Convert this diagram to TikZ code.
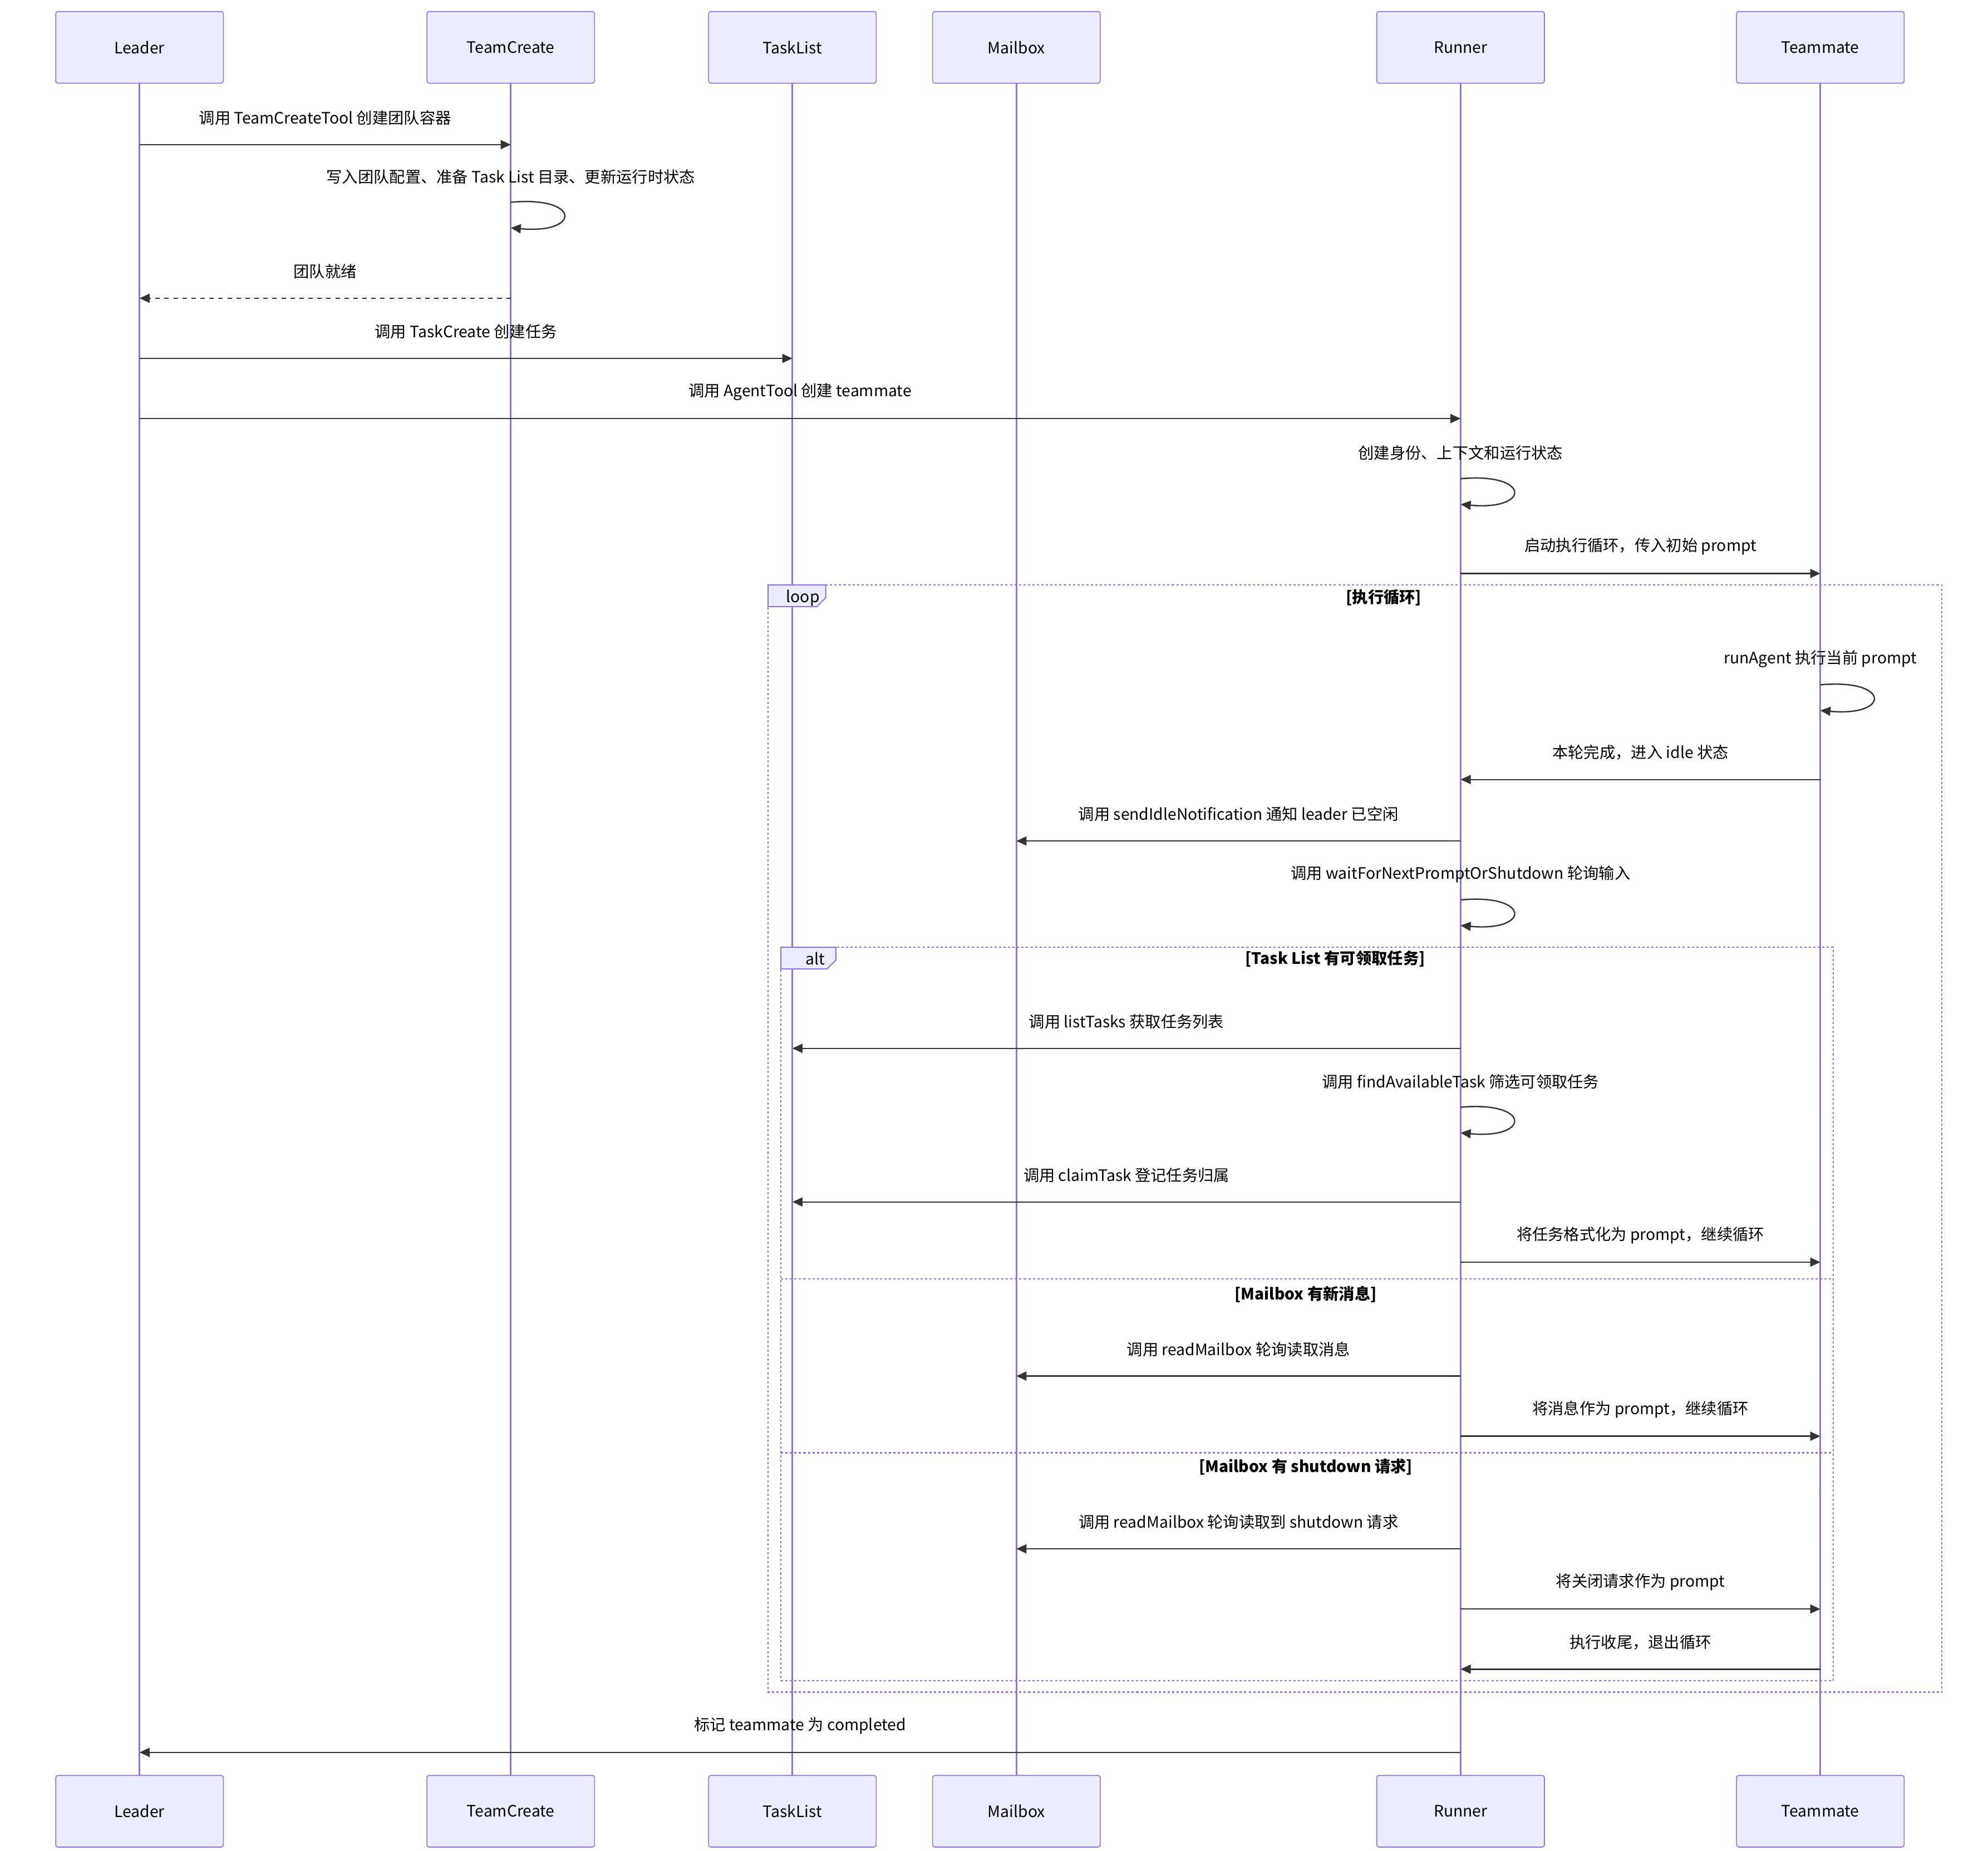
\documentclass[tikz,border=0pt]{standalone}
\usepackage{fontspec}
\setmainfont{Noto Sans CJK SC}
\usetikzlibrary{arrows.meta, calc}
\definecolor{boxfill}{HTML}{ECECFF}
\definecolor{boxline}{HTML}{9370DB}
\definecolor{msgline}{HTML}{333333}

\begin{document}
\begin{tikzpicture}[x = 0.02cm, y = -0.02cm, > = {Triangle[length=4.5pt,width=4pt]},
	actor/.style = {draw = boxline, fill = boxfill, rounded corners = 1pt,
		minimum width = 2.62cm, minimum height = 1.12cm, font = \fontsize{7}{8}\selectfont},
	life/.style = {draw = boxline, line width = 0.8pt},
	msg/.style = {draw = msgline, ->, line width = 0.6pt},
	reply/.style = {msg, dash pattern = on 2pt off 2pt},
	lbl/.style = {font = \fontsize{7}{8}\selectfont, text = black},
	frame/.style = {draw = boxline, line width = 0.6pt, dash pattern = on 1pt off 1pt},
	tab/.style = {draw = boxline, fill = boxfill, line width = 0.5pt}]

	% Page
	
	\useasboundingbox (0, 0) rectangle (1553, 1446);
	
	% Participants
	
	\foreach \name/\x in {Leader/109, TeamCreate/399, TaskList/619, Mailbox/794, Runner/1141, Teammate/1422} {
		\draw [life] (\x, 65) -- (\x, 1387);
		\node [actor] (\name-top) at (\x, 37) {\name};
		\node [actor] (\name-bot) at (\x, 1415) {\name};
		\coordinate (\name) at (\x, 0);
	}
	
	% Messages
	
	\newcommand{\msgto}[6][msg]{%
		\path (#3) ++(0, #5) coordinate (#2a);
		\path (#4) ++(0, #5) coordinate (#2b);
		\draw [#1] (#2a) -- (#2b);
		\node [lbl] at ($(#2a)!0.5!(#2b) + (0, -21)$) {#6};
	}
	\newcommand{\self}[4]{%
		\path (#1) ++(0, #3) coordinate (#2a);
		\path (#1) ++(0, #3 + 20) coordinate (#2b);
		\draw [msg] (#2a) .. controls ($(#2a) + (55, -5)$) and ($(#2b) + (55, 5)$) .. (#2b);
		\node [lbl] at ($(#2a) + (0, -20)$) {#4};
	}
	
	\msgto{m1}{Leader}{TeamCreate}{113}{调用 TeamCreateTool 创建团队容器}
	\self{TeamCreate}{s1}{158}{写入团队配置、准备 Task List 目录、更新运行时状态}
	\msgto[reply]{m2}{TeamCreate}{Leader}{233}{团队就绪}
	\msgto{m3}{Leader}{TaskList}{280}{调用 TaskCreate 创建任务}
	\msgto{m4}{Leader}{Runner}{327}{调用 AgentTool 创建 teammate}
	\self{Runner}{s2}{374}{创建身份、上下文和运行状态}
	\msgto{m5}{Runner}{Teammate}{448}{启动执行循环，传入初始 prompt}
	
	% Loop frame
	
	\draw [frame] (600, 457) rectangle (1517, 1322);
	\draw [tab] (600, 457) -- (645, 457) -- (645, 467) -- (638, 474) -- (600, 474) -- cycle;
	\node [lbl, anchor = west] at (608, 467) {loop};
	\node [lbl, font = \fontsize{7}{8}\selectfont\bfseries] at (1081, 467) {[执行循环]};
	
	\self{Teammate}{s3}{535}{runAgent 执行当前 prompt}
	\msgto{m6}{Teammate}{Runner}{609}{本轮完成，进入 idle 状态}
	\msgto{m7}{Runner}{Mailbox}{657}{调用 sendIdleNotification 通知 leader 已空闲}
	\self{Runner}{s4}{703}{调用 waitForNextPromptOrShutdown 轮询输入}
	
	% Alt frame
	
	\draw [frame] (610, 740) rectangle (1432, 1313);
	\draw [frame] (610, 999) -- (1432, 999);
	\draw [frame] (610, 1135) -- (1432, 1135);
	\draw [tab] (610, 740) -- (653, 740) -- (653, 750) -- (646, 757) -- (610, 757) -- cycle;
	\node [lbl, anchor = west] at (623, 749) {alt};
	\node [lbl, font = \fontsize{7}{8}\selectfont\bfseries] at (1043, 749) {[Task List 有可领取任务]};
	\node [lbl, font = \fontsize{7}{8}\selectfont\bfseries] at (1020, 1011) {[Mailbox 有新消息]};
	\node [lbl, font = \fontsize{7}{8}\selectfont\bfseries] at (1020, 1146) {[Mailbox 有 shutdown 请求]};
	
	\msgto{m8}{Runner}{TaskList}{819}{调用 listTasks 获取任务列表}
	\self{Runner}{s5}{865}{调用 findAvailableTask 筛选可领取任务}
	\msgto{m9}{Runner}{TaskList}{939}{调用 claimTask 登记任务归属}
	\msgto{m10}{Runner}{Teammate}{986}{将任务格式化为 prompt，继续循环}
	\msgto{m11}{Runner}{Mailbox}{1075}{调用 readMailbox 轮询读取消息}
	\msgto{m12}{Runner}{Teammate}{1122}{将消息作为 prompt，继续循环}
	\msgto{m13}{Runner}{Mailbox}{1210}{调用 readMailbox 轮询读取到 shutdown 请求}
	\msgto{m14}{Runner}{Teammate}{1257}{将关闭请求作为 prompt}
	\msgto{m15}{Teammate}{Runner}{1304}{执行收尾，退出循环}
	
	% Finish
	
	\msgto{m16}{Runner}{Leader}{1369}{标记 teammate 为 completed}

\end{tikzpicture}
\end{document}
